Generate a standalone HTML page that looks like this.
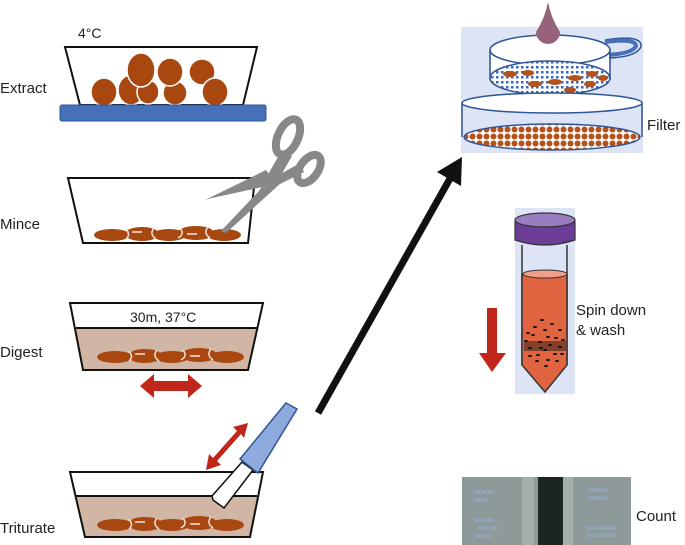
<!DOCTYPE html>
<html><head><style>
body{margin:0;width:685px;height:545px;background:#fff;overflow:hidden}
svg{display:block}
text{font-family:"Liberation Sans",sans-serif;fill:#222}
</style></head><body>
<svg width="685" height="545" viewBox="0 0 685 545">
<defs>
<pattern id="dots" width="5" height="5" patternUnits="userSpaceOnUse"><rect width="5" height="5" fill="#fff"/><rect x="1" y="1" width="2.5" height="2.5" fill="#3a68b8"/></pattern>
<pattern id="beads" width="7" height="7" patternUnits="userSpaceOnUse"><rect width="7" height="7" fill="#fff"/><circle cx="3.5" cy="3.5" r="3" fill="#b5511a"/></pattern>
<g id="mince">
<ellipse cx="0" cy="0" rx="18" ry="6" fill="#a84810"/>
<ellipse cx="30" cy="-1" rx="17" ry="7" fill="#a84810"/>
<ellipse cx="57" cy="0" rx="17" ry="6" fill="#a84810"/>
<ellipse cx="84" cy="-2" rx="18" ry="7" fill="#a84810"/>
<ellipse cx="112" cy="0" rx="17" ry="6" fill="#a84810"/>
<path d="M14 -6 q5 6 0 10 M42 -7 q-5 6 2 11 M68 -7 q5 6 -2 10 M96 -8 q-5 6 2 11 M20 -3 h10 M75 -1 h10" stroke="#f4e4dc" stroke-width="1.5" fill="none"/>
</g>
</defs>

<!-- Extract -->
<text x="78" y="38" font-size="14">4°C</text>
<text x="0" y="93" font-size="15">Extract</text>
<polygon points="65,47 257,47 243,105 80,105" fill="#fff" stroke="#111" stroke-width="2"/>
<g fill="#a84810" stroke="#fff" stroke-width="1.5">
<ellipse cx="104" cy="92" rx="13" ry="14"/>
<ellipse cx="131" cy="90" rx="13" ry="15"/>
<ellipse cx="148" cy="92" rx="11" ry="12"/>
<ellipse cx="141" cy="70" rx="14" ry="17"/>
<ellipse cx="175" cy="93" rx="12" ry="12"/>
<ellipse cx="170" cy="72" rx="13" ry="14"/>
<ellipse cx="202" cy="72" rx="13" ry="13"/>
<ellipse cx="215" cy="92" rx="13" ry="14"/>
</g>
<rect x="60" y="105" width="206" height="16" rx="2" fill="#4670b8" stroke="#2f5597"/>

<!-- Mince -->
<text x="0" y="229" font-size="15">Mince</text>
<polygon points="68,178 255,178 248,243 83,243" fill="#fff" stroke="#111" stroke-width="2"/>
<use href="#mince" x="112" y="235"/>
<!-- scissors -->
<g fill="#888">
<polygon points="270,176 282,182 226,233 221,231 258,192"/>
<polygon points="266,170 276,184 212,198 205,200 250,178"/>
<path d="M266 178 L282 150 L292 156 L276 184Z"/>
<path d="M270 180 L300 163 L304 172 L276 186Z"/>
</g>
<ellipse cx="288" cy="137" rx="10" ry="19" transform="rotate(25 288 137)" fill="none" stroke="#888" stroke-width="8"/>
<ellipse cx="309" cy="169" rx="9" ry="16" transform="rotate(35 309 169)" fill="none" stroke="#888" stroke-width="8"/>

<!-- Digest -->
<text x="0" y="357" font-size="15">Digest</text>
<polygon points="76,328 257,328 248,370 83,370" fill="#d1b6a5"/>
<polygon points="70,303 263,303 248,370 83,370" fill="none" stroke="#111" stroke-width="2"/>
<line x1="76" y1="328" x2="257" y2="328" stroke="#111" stroke-width="2"/>
<text x="130" y="322" font-size="14">30m, 37°C</text>
<use href="#mince" x="115" y="357"/>
<polygon points="140,386 154,374 154,381 188,381 188,374 202,386 188,398 188,391 154,391 154,398" fill="#c0261a"/>

<!-- Triturate -->
<text x="0" y="533" font-size="15">Triturate</text>
<polygon points="76,496 257,496 250,537 85,537" fill="#d1b6a5"/>
<polygon points="70,472 263,472 250,537 85,537" fill="none" stroke="#111" stroke-width="2"/>
<line x1="76" y1="496" x2="257" y2="496" stroke="#111" stroke-width="2"/>
<use href="#mince" x="115" y="525"/>
<polygon points="206,470 209,454 213,458 237,431 233,427 248,423 244,438 241,434 217,461 221,465" fill="#c0261a"/>
<polygon points="242,462 253,470 224,508 213,500 212,496" fill="#fff" stroke="#111" stroke-width="1.5"/>
<polygon points="286,403 297,409 258,473 240,459" fill="#8faadc" stroke="#2f5597" stroke-width="1.5"/>

<!-- big arrow -->
<line x1="318" y1="413" x2="452" y2="175" stroke="#111" stroke-width="7"/>
<polygon points="462,157 461,186 437,172" fill="#111"/>

<!-- Filter -->
<rect x="461" y="27" width="182" height="126" fill="#dde4f5"/>
<path d="M605 40 Q643 34 641 47 Q635 58 605 58" fill="none" stroke="#2f5597" stroke-width="1.5"/>
<path d="M605 42 Q636 38 636 46 Q632 54 605 55" fill="none" stroke="#4670b8" stroke-width="4"/>
<rect x="491" y="50" width="118" height="28" fill="#fff"/>
<ellipse cx="550" cy="50" rx="60" ry="15" fill="#fff" stroke="#2f5597" stroke-width="1.5"/>
<line x1="490" y1="50" x2="490" y2="80" stroke="#2f5597" stroke-width="1.5"/>
<line x1="610" y1="50" x2="610" y2="80" stroke="#2f5597" stroke-width="1.5"/>
<ellipse cx="550" cy="78" rx="60" ry="17" fill="url(#dots)" stroke="#2f5597" stroke-width="1.5"/>
<g fill="#b5511a">
<ellipse cx="510" cy="74" rx="7" ry="3"/><ellipse cx="528" cy="73" rx="6" ry="3"/><ellipse cx="535" cy="84" rx="7" ry="3"/>
<ellipse cx="555" cy="82" rx="7" ry="3"/><ellipse cx="575" cy="78" rx="7" ry="3"/><ellipse cx="592" cy="74" rx="6" ry="3"/>
<ellipse cx="570" cy="90" rx="6" ry="3"/><ellipse cx="590" cy="84" rx="6" ry="3"/><ellipse cx="603" cy="78" rx="5" ry="3"/>
</g>
<path d="M548 2 Q545 18 536 32 A12 12 0 1 0 560 32 Q551 18 548 2Z" fill="#98637a"/>
<ellipse cx="552" cy="103" rx="90" ry="10" fill="#fff" stroke="#2f5597" stroke-width="1.5"/>
<path d="M462 103 L462 137 M642 103 L642 137" stroke="#2f5597" stroke-width="1.5"/>
<ellipse cx="552" cy="137" rx="88" ry="13" fill="url(#beads)" stroke="#2f5597" stroke-width="1.5"/>
<text x="647" y="130" font-size="15">Filter</text>

<!-- Tube -->
<rect x="515" y="208" width="60" height="186" fill="#dde4f5"/>
<line x1="522" y1="245" x2="522" y2="365" stroke="#333" stroke-width="1.5"/>
<line x1="567" y1="245" x2="567" y2="365" stroke="#333" stroke-width="1.5"/>
<path d="M522 275 L522 365 L545 392 L567 365 L567 275Z" fill="#e0643f" stroke="#333" stroke-width="1.5"/>
<ellipse cx="545" cy="274" rx="22" ry="4" fill="#f0a08a" stroke="#333" stroke-width="1"/>
<g fill="#111">
<ellipse cx="533" cy="335" rx="2" ry="1"/><ellipse cx="545" cy="330" rx="2" ry="1"/><ellipse cx="556" cy="338" rx="2" ry="1"/><ellipse cx="540" cy="342" rx="2" ry="1"/><ellipse cx="550" cy="345" rx="2" ry="1"/><ellipse cx="560" cy="347" rx="2" ry="1"/><ellipse cx="530" cy="348" rx="2" ry="1"/><ellipse cx="545" cy="350" rx="2" ry="1"/><ellipse cx="538" cy="355" rx="2" ry="1"/><ellipse cx="555" cy="354" rx="2" ry="1"/><ellipse cx="548" cy="360" rx="2" ry="1"/><ellipse cx="526" cy="341" rx="2" ry="1"/><ellipse cx="563" cy="340" rx="2" ry="1"/><ellipse cx="542" cy="320" rx="2" ry="1"/><ellipse cx="552" cy="324" rx="2" ry="1"/><ellipse cx="535" cy="327" rx="2" ry="1"/><ellipse cx="546" cy="366" rx="2" ry="1"/>
<ellipse cx="528" cy="333" rx="2" ry="1"/><ellipse cx="560" cy="330" rx="2" ry="1"/><ellipse cx="537" cy="361" rx="2" ry="1"/><ellipse cx="557" cy="361" rx="2" ry="1"/><ellipse cx="530" cy="356" rx="2" ry="1"/><ellipse cx="562" cy="354" rx="2" ry="1"/><ellipse cx="548" cy="337" rx="2" ry="1"/><ellipse cx="541" cy="348" rx="2" ry="1"/>
</g>
<rect x="524" y="341" width="42" height="10" fill="#111" opacity="0.45"/>
<path d="M515 222 L515 240 Q545 250 575 240 L575 222Z" fill="#6b3d96" stroke="#333" stroke-width="1.2"/>
<ellipse cx="545" cy="220" rx="30" ry="7" fill="#9a7cc0" stroke="#333" stroke-width="1.2"/>
<polygon points="487,308 497,308 497,353 506,353 492,372 479,353 487,353" fill="#c0261a"/>
<text x="576" y="315" font-size="15">Spin down</text>
<text x="576" y="335" font-size="15">&amp; wash</text>

<!-- Count -->
<rect x="462" y="477" width="169" height="68" fill="#8e9a99"/>
<rect x="522" y="477" width="12" height="68" fill="#a4aead"/>
<rect x="563" y="477" width="10" height="68" fill="#a4aead"/>
<rect x="538" y="477" width="25" height="68" fill="#1c2424"/>
<g font-size="5">
<text x="474" y="494" style="fill:#9ab8ee">XXXXXX</text><text x="474" y="502" style="fill:#9ab8ee">XXXX</text>
<text x="474" y="522" style="fill:#9ab8ee">XXXXXX</text><text x="478" y="530" style="fill:#9ab8ee">XXXXXX</text><text x="474" y="538" style="fill:#9ab8ee">XXXXX</text>
<text x="588" y="492" style="fill:#9ab8ee">XXXXXX</text><text x="588" y="500" style="fill:#9ab8ee">XXXXXX</text>
<text x="586" y="530" style="fill:#9ab8ee">XXXXXXXXX</text><text x="586" y="537" style="fill:#9ab8ee">XXXXXXXXX</text>
</g>
<text x="636" y="521" font-size="15">Count</text>
</svg>
</body></html>
